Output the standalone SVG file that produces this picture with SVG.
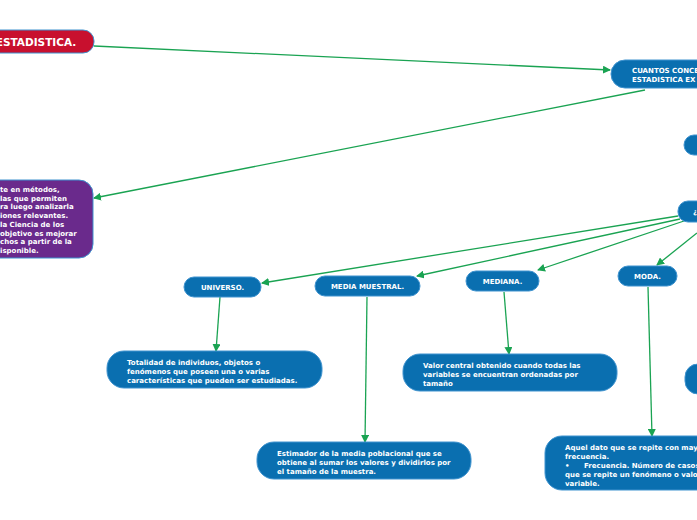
<svg xmlns="http://www.w3.org/2000/svg" width="697" height="520" viewBox="0 0 697 520">
<style>
.n{fill:#0a6fb0;stroke:#3f93cf;stroke-width:1}
.t{font-family:"DejaVu Sans",sans-serif;font-weight:bold;fill:#fff;font-size:7px}
.c{text-anchor:middle}
.e{stroke:#1aa352;stroke-width:1.3;fill:none;marker-end:url(#a)}
</style>
<defs><marker id="a" markerWidth="8" markerHeight="8" refX="7" refY="4" orient="auto" markerUnits="userSpaceOnUse"><path d="M0,0 L8,4 L0,8z" fill="#1aa352"/></marker></defs>
<rect width="697" height="520" fill="#fff"/>
<g id="edges">
<line class="e" x1="94" y1="46" x2="610" y2="70"/>
<line class="e" x1="645" y1="90" x2="94" y2="198"/>
<line class="e" x1="678" y1="216" x2="262" y2="283"/>
<line class="e" x1="680" y1="219" x2="417" y2="276"/>
<line class="e" x1="684" y1="221" x2="538" y2="270"/>
<line class="e" x1="697" y1="233" x2="657" y2="265"/>
<line class="e" x1="220" y1="297" x2="216" y2="351"/>
<line class="e" x1="367" y1="297" x2="365" y2="442"/>
<line class="e" x1="504" y1="292" x2="509" y2="354"/>
<line class="e" x1="648" y1="287" x2="652" y2="436"/>
</g>
<g id="estadistica"><rect x="-20" y="30" width="114" height="23" rx="11" fill="#c8102e" stroke="#3f93cf"/><text x="36" y="46" class="t c" style="font-size:10.5px">ESTADISTICA.</text></g>
<g id="cuantos"><rect class="n" x="611" y="60" width="100" height="28" rx="14"/><text x="632" y="73" class="t">CUANTOS CONCE</text><text x="632" y="82" class="t">ESTADISTICA EX</text></g>
<g id="n2"><rect class="n" x="684" y="135" width="26" height="20" rx="10"/></g>
<g id="q"><rect class="n" x="678" y="201" width="32" height="21" rx="10"/><text x="693" y="214" class="t">¿</text></g>
<g id="def"><rect x="-20" y="180" width="113" height="78" rx="14" fill="#6a2a8c" stroke="#3f93cf"/>
<text class="t" y="192"><tspan x="0">te en métodos,</tspan><tspan x="0" dy="8.7">las que permiten</tspan><tspan x="0" dy="8.7">ra luego analizarla</tspan><tspan x="0" dy="8.7">iones relevantes.</tspan><tspan x="0" dy="8.7">la Ciencia de los</tspan><tspan x="0" dy="8.7">objetivo es mejorar</tspan><tspan x="0" dy="8.7">chos a partir de la</tspan><tspan x="0" dy="8.7">isponible.</tspan></text></g>
<g id="universo"><rect class="n" x="184" y="277" width="77" height="20" rx="10"/><text x="222.5" y="290" class="t c">UNIVERSO.</text></g>
<g id="media"><rect class="n" x="315" y="276" width="105" height="20" rx="10"/><text x="367.5" y="289" class="t c">MEDIA MUESTRAL.</text></g>
<g id="mediana"><rect class="n" x="466" y="271" width="73" height="20" rx="10"/><text x="502.5" y="284" class="t c">MEDIANA.</text></g>
<g id="moda"><rect class="n" x="618" y="266" width="59" height="20" rx="10"/><text x="647.5" y="279" class="t c">MODA.</text></g>
<g id="totalidad"><rect class="n" x="107" y="351" width="215" height="37" rx="17"/><text class="t" y="365"><tspan x="127">Totalidad de individuos, objetos o</tspan><tspan x="127" dy="9">fenómenos que poseen una o varias</tspan><tspan x="127" dy="9">características que pueden ser estudiadas.</tspan></text></g>
<g id="valor"><rect class="n" x="403" y="354" width="214" height="37" rx="17"/><text class="t" y="368"><tspan x="423">Valor central obtenido cuando todas las</tspan><tspan x="423" dy="9">variables se encuentran ordenadas por</tspan><tspan x="423" dy="9">tamaño</tspan></text></g>
<g id="estimador"><rect class="n" x="257" y="442" width="214" height="37" rx="17"/><text class="t" y="456"><tspan x="277">Estimador de la media poblacional que se</tspan><tspan x="277" dy="9">obtiene al sumar los valores y dividirlos por</tspan><tspan x="277" dy="9">el tamaño de la muestra.</tspan></text></g>
<g id="aquel"><rect class="n" x="545" y="436" width="170" height="54" rx="17"/><text class="t" y="450"><tspan x="565">Aquel dato que se repite con mayor</tspan><tspan x="565" dy="9">frecuencia.</tspan><tspan x="565" dy="9">•</tspan><tspan x="584">Frecuencia. Número de casos</tspan><tspan x="565" dy="9">que se repite un fenómeno o valor</tspan><tspan x="565" dy="9">variable.</tspan></text></g>
<g id="n3"><rect class="n" x="685" y="364" width="26" height="30" rx="13"/></g>
</svg>
